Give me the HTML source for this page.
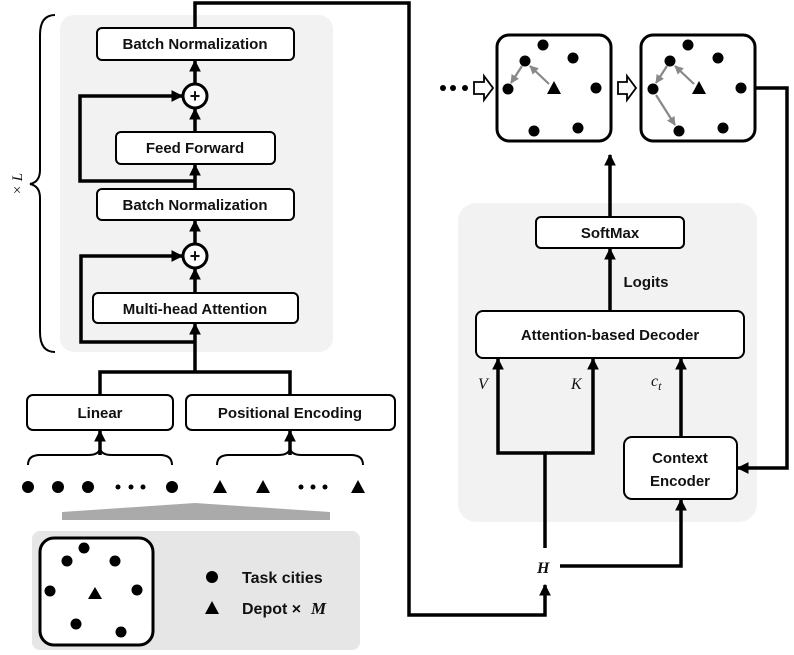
<!DOCTYPE html>
<html><head><meta charset="utf-8"><style>
body{margin:0;background:#fff}
svg{display:block}
text{font-family:"Liberation Sans",sans-serif;font-weight:bold;fill:#111}
.it{font-family:"Liberation Serif",serif;font-style:italic;font-weight:normal}
</style></head><body>
<svg width="794" height="655" viewBox="0 0 794 655" xmlns="http://www.w3.org/2000/svg">
<defs>
<marker id="a" viewBox="0 0 10 10" refX="9" refY="5" markerWidth="3.4" markerHeight="3.4" orient="auto"><path d="M0,0L10,5L0,10z" fill="#000"/></marker>
<marker id="g" viewBox="0 0 10 10" refX="9" refY="5" markerWidth="4" markerHeight="4" orient="auto"><path d="M0,0L10,5L0,10z" fill="#888"/></marker>
</defs>
<!-- panels -->
<rect x="60" y="15" width="273" height="337" rx="14" fill="#f2f2f2"/>
<rect x="458" y="203" width="299" height="319" rx="18" fill="#f2f2f2"/>
<rect x="32" y="531" width="328" height="119" rx="8" fill="#e6e6e6"/>
<polygon points="195,503 330,512 330,520 62,520 62,512" fill="#aaa"/>
<!-- brace left -->
<path d="M55,15 Q40,15 40,35 L40,170 Q40,182 30,184 Q40,186 40,198 L40,332 Q40,352 55,352" fill="none" stroke="#000" stroke-width="2"/>
<text x="22" y="184" class="it" font-size="15" transform="rotate(-90 22 184)" text-anchor="middle">× L</text>
<g fill="none" stroke="#000" stroke-width="3.5">
<!-- encoder main -->
<line x1="195" y1="372" x2="195" y2="324" marker-end="url(#a)"/>
<line x1="195" y1="293" x2="195" y2="269" marker-end="url(#a)"/>
<line x1="195" y1="244" x2="195" y2="221" marker-end="url(#a)"/>
<line x1="195" y1="189" x2="195" y2="165" marker-end="url(#a)"/>
<line x1="195" y1="132" x2="195" y2="109" marker-end="url(#a)"/>
<line x1="195" y1="84" x2="195" y2="61" marker-end="url(#a)"/>
<polyline points="195,342 81,342 81,256 182,256" marker-end="url(#a)"/>
<polyline points="195,181 80,181 80,96 182,96" marker-end="url(#a)"/>
<polyline points="195,28 195,3 409,3 409,615 545,615 545,585" marker-end="url(#a)"/>
<polyline points="100,395 100,372 290,372 290,395"/>
<line x1="100" y1="455" x2="100" y2="431" marker-end="url(#a)"/>
<line x1="290" y1="455" x2="290" y2="431" marker-end="url(#a)"/>
<!-- decoder -->
<line x1="610" y1="311" x2="610" y2="249" marker-end="url(#a)"/>
<line x1="610" y1="217" x2="610" y2="155" marker-end="url(#a)"/>
<polyline points="545,548 545,453 498,453 498,359" marker-end="url(#a)"/>
<polyline points="545,453 593,453 593,359" marker-end="url(#a)"/>
<line x1="681" y1="437" x2="681" y2="359" marker-end="url(#a)"/>
<polyline points="560,566 681,566 681,500" marker-end="url(#a)"/>
<polyline points="755,88 787,88 787,468 738,468" marker-end="url(#a)"/>
</g>
<g fill="none" stroke="#000" stroke-width="2">
<path d="M28,465 Q28,455 40,455 L88,455 Q100,455 100,447 Q100,455 112,455 L160,455 Q172,455 172,465"/>
<path d="M217,465 Q217,455 229,455 L278,455 Q290,455 290,447 Q290,455 302,455 L351,455 Q363,455 363,465"/>
</g>
<!-- boxes -->
<g fill="#fff" stroke="#000" stroke-width="2">
<rect x="97" y="28" width="197" height="32" rx="5"/>
<rect x="116" y="132" width="159" height="32" rx="5"/>
<rect x="97" y="189" width="197" height="31" rx="5"/>
<rect x="93" y="293" width="205" height="30" rx="5"/>
<rect x="27" y="395" width="146" height="35" rx="6"/>
<rect x="186" y="395" width="209" height="35" rx="6"/>
<rect x="536" y="217" width="148" height="31" rx="5"/>
<rect x="476" y="311" width="268" height="47" rx="7"/>
<rect x="624" y="437" width="113" height="62" rx="8"/>
<circle cx="195" cy="96" r="12" stroke-width="3"/>
<circle cx="195" cy="256" r="12" stroke-width="3"/>
<rect x="497" y="35" width="114" height="106" rx="12" stroke-width="3"/>
<rect x="641" y="35" width="114" height="106" rx="12" stroke-width="3"/>
<rect x="40" y="538" width="113" height="107" rx="14" stroke-width="3"/>
<path d="M474,82 L484,82 L484,76 L493,88 L484,100 L484,94 L474,94z" stroke-width="1.8"/>
<path d="M618,82 L627,82 L627,76 L636,88 L627,100 L627,94 L618,94z" stroke-width="1.8"/>
</g>
<g font-size="18" font-weight="bold" text-anchor="middle" font-family="Liberation Sans"><text x="195" y="102">+</text><text x="195" y="262">+</text></g>
<g font-size="15" text-anchor="middle">
<text x="195" y="49">Batch Normalization</text>
<text x="195" y="153">Feed Forward</text>
<text x="195" y="210">Batch Normalization</text>
<text x="195" y="314">Multi-head Attention</text>
<text x="100" y="418">Linear</text>
<text x="290" y="418">Positional Encoding</text>
<text x="610" y="238">SoftMax</text>
<text x="610" y="340">Attention-based Decoder</text>
<text x="680" y="463">Context</text>
<text x="680" y="486">Encoder</text>
<text x="646" y="287">Logits</text>
</g>
<text x="242" y="583" font-size="16">Task cities</text>
<text x="242" y="614" font-size="16">Depot ×</text>
<text x="311" y="614" font-size="17" class="it" style="font-weight:bold">M</text>
<text x="478" y="389" font-size="16" class="it">V</text>
<text x="571" y="389" font-size="16" class="it">K</text>
<text x="651" y="386" font-size="16" class="it">c<tspan font-size="12" dy="4">t</tspan></text>
<text x="537" y="573" font-size="16" class="it" style="font-weight:bold">H</text>
<!-- dots row -->
<g fill="#000">
<circle cx="28" cy="487" r="6"/><circle cx="58" cy="487" r="6"/><circle cx="88" cy="487" r="6"/>
<circle cx="118" cy="487" r="2.5"/><circle cx="131" cy="487" r="2.5"/><circle cx="143" cy="487" r="2.5"/>
<circle cx="172" cy="487" r="6"/>
<polygon points="220,480 227,493 213,493"/><polygon points="263,480 270,493 256,493"/>
<circle cx="301" cy="487" r="2.5"/><circle cx="313" cy="487" r="2.5"/><circle cx="325" cy="487" r="2.5"/>
<polygon points="358,480 365,493 351,493"/>
<!-- legend map -->
<circle cx="84" cy="548" r="5.5"/><circle cx="67" cy="561" r="5.5"/><circle cx="115" cy="561" r="5.5"/>
<circle cx="50" cy="591" r="5.5"/><circle cx="137" cy="590" r="5.5"/><polygon points="95,587 102,599 88,599"/>
<circle cx="76" cy="624" r="5.5"/><circle cx="121" cy="632" r="5.5"/>
<circle cx="212" cy="577" r="6"/><polygon points="212,601 219,614 205,614"/>
<!-- top dots -->
<circle cx="443" cy="88" r="3"/><circle cx="453" cy="88" r="3"/><circle cx="465" cy="88" r="3"/>
<!-- map 1 -->
<circle cx="543" cy="45" r="5.5"/><circle cx="573" cy="58" r="5.5"/><circle cx="525" cy="61" r="5.5"/>
<circle cx="508" cy="89" r="5.5"/><polygon points="554,81 561,94 547,94"/><circle cx="596" cy="88" r="5.5"/>
<circle cx="534" cy="131" r="5.5"/><circle cx="578" cy="128" r="5.5"/>
<!-- map 2 -->
<circle cx="688" cy="45" r="5.5"/><circle cx="718" cy="58" r="5.5"/><circle cx="670" cy="61" r="5.5"/>
<circle cx="653" cy="89" r="5.5"/><polygon points="699,81 706,94 692,94"/><circle cx="741" cy="88" r="5.5"/>
<circle cx="679" cy="131" r="5.5"/><circle cx="723" cy="128" r="5.5"/>
</g>
<g stroke="#888" stroke-width="2.2" fill="none">
<line x1="549" y1="84" x2="530" y2="66" marker-end="url(#g)"/>
<line x1="522" y1="66" x2="511" y2="83" marker-end="url(#g)"/>
<line x1="694" y1="84" x2="675" y2="66" marker-end="url(#g)"/>
<line x1="667" y1="66" x2="656" y2="83" marker-end="url(#g)"/>
<line x1="656" y1="95" x2="675" y2="125" marker-end="url(#g)"/>
</g>
</svg>
</body></html>
